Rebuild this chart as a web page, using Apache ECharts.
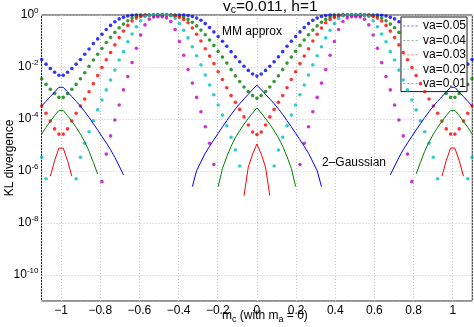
<!DOCTYPE html>
<html>
<head>
<meta charset="utf-8">
<script src="https://cdn.jsdelivr.net/npm/echarts@6/dist/echarts.min.js"></script>
<style>
  html, body { margin: 0; padding: 0; background: #fff; }
  #chart-container { width: 474px; height: 327px; }
</style>
</head>
<body>
<div id="chart-container"></div>
<script>
const _ = null;

// m_c sample positions (step 1/45.5, from -1.0989 to 1.0989)
const mcStep = 1 / 45.5;
const mc = [];
for (let k = -50; k <= 50; k++) mc.push(k * mcStep);

const vaNames = ['va=0.05', 'va=0.04', 'va=0.03', 'va=0.02', 'va=0.01'];
const vaColors = ['#0000ff', '#008000', '#ff0000', '#00bfbf', '#bf00bf'];

// MM approx, log10 of KL divergence, one value per mc sample
const mmVa05 = [-1.71,-1.89,-2.06,-2.2,-2.32,-2.32,-2.2,-2.06,-1.89,-1.71,-1.51,-1.31,-1.1,-0.92,-0.74,-0.56,-0.4,-0.26,-0.15,-0.09,-0.04,-0.01,0,0,0,0,0,0,0,0,0,0,0,0,-0.02,-0.06,-0.12,-0.2,-0.33,-0.48,-0.65,-0.83,-1.01,-1.2,-1.41,-1.61,-1.8,-1.97,-2.13,-2.27,
  -2.35,
  -2.27,-2.13,-1.97,-1.8,-1.61,-1.41,-1.2,-1.01,-0.83,-0.65,-0.48,-0.33,-0.2,-0.12,-0.06,-0.02,0,0,0,0,0,0,0,0,0,0,0,0,-0.01,-0.04,-0.09,-0.15,-0.26,-0.4,-0.56,-0.74,-0.92,-1.1,-1.31,-1.51,-1.71,-1.89,-2.06,-2.2,-2.32,-2.32,-2.2,-2.06,-1.89,-1.71];
const mmVa04 = [-2.45,-2.67,-2.86,-3.02,-3.17,-3.17,-3.02,-2.86,-2.67,-2.45,-2.22,-1.97,-1.73,-1.51,-1.29,-1.06,-0.86,-0.67,-0.49,-0.35,-0.22,-0.12,-0.05,-0.03,-0.01,0,0,0,0,0,0,-0.02,-0.04,-0.08,-0.17,-0.28,-0.42,-0.58,-0.76,-0.96,-1.17,-1.4,-1.62,-1.85,-2.1,-2.34,-2.56,-2.77,-2.94,-3.1,
  -3.2,
  -3.1,-2.94,-2.77,-2.56,-2.34,-2.1,-1.85,-1.62,-1.4,-1.17,-0.96,-0.76,-0.58,-0.42,-0.28,-0.17,-0.08,-0.04,-0.02,0,0,0,0,0,0,-0.01,-0.03,-0.05,-0.12,-0.22,-0.35,-0.49,-0.67,-0.86,-1.06,-1.29,-1.51,-1.73,-1.97,-2.22,-2.45,-2.67,-2.86,-3.02,-3.17,-3.17,-3.02,-2.86,-2.67,-2.45];
const mmVa03 = [-3.5,-3.78,-4.08,-4.38,-4.58,-4.58,-4.38,-4.08,-3.78,-3.5,-3.23,-2.95,-2.64,-2.33,-2.02,-1.72,-1.44,-1.15,-0.87,-0.62,-0.4,-0.23,-0.12,-0.06,-0.03,-0.01,0,0,0,0,-0.02,-0.04,-0.09,-0.17,-0.3,-0.5,-0.74,-1.0,-1.3,-1.58,-1.87,-2.18,-2.48,-2.8,-3.1,-3.36,-3.63,-3.92,-4.23,-4.5,
  -4.6,
  -4.5,-4.23,-3.92,-3.63,-3.36,-3.1,-2.8,-2.48,-2.18,-1.87,-1.58,-1.3,-1.0,-0.74,-0.5,-0.3,-0.17,-0.09,-0.04,-0.02,0,0,0,0,-0.01,-0.03,-0.06,-0.12,-0.23,-0.4,-0.62,-0.87,-1.15,-1.44,-1.72,-2.02,-2.33,-2.64,-2.95,-3.23,-3.5,-3.78,-4.08,-4.38,-4.58,-4.58,-4.38,-4.08,-3.78,-3.5];
const mmVa02 = [-5.47,-6.3,_,_,_,_,_,_,-6.3,-5.47,-4.93,-4.49,-4.07,-3.65,-3.27,-2.88,-2.5,-2.12,-1.73,-1.41,-1.03,-0.73,-0.45,-0.22,-0.06,-0.01,0,0,0,0,-0.03,-0.13,-0.33,-0.59,-0.88,-1.22,-1.57,-1.92,-2.31,-2.69,-3.07,-3.46,-3.85,-4.26,-4.7,-5.19,-5.81,_,_,_,
  _,
  _,_,_,-5.81,-5.19,-4.7,-4.26,-3.85,-3.46,-3.07,-2.69,-2.31,-1.92,-1.57,-1.22,-0.88,-0.59,-0.33,-0.13,-0.03,0,0,0,0,-0.01,-0.06,-0.22,-0.45,-0.73,-1.03,-1.41,-1.73,-2.12,-2.5,-2.88,-3.27,-3.65,-4.07,-4.49,-4.93,-5.47,-6.3,_,_,_,_,_,_,-6.3,-5.47];
const mmVa01 = [_,_,_,_,_,_,_,_,_,_,_,_,_,_,-6.41,-5.35,-4.65,-4.04,-3.46,-2.88,-2.37,-1.83,-1.28,-0.77,-0.38,-0.16,-0.08,-0.07,-0.07,-0.11,-0.25,-0.56,-1.02,-1.55,-2.1,-2.62,-3.17,-3.72,-4.3,-4.93,-5.75,_,_,_,_,_,_,_,_,_,
  _,
  _,_,_,_,_,_,_,_,_,-5.75,-4.93,-4.3,-3.72,-3.17,-2.62,-2.1,-1.55,-1.02,-0.56,-0.25,-0.11,-0.07,-0.07,-0.08,-0.16,-0.38,-0.77,-1.28,-1.83,-2.37,-2.88,-3.46,-4.04,-4.65,-5.35,-6.41,_,_,_,_,_,_,_,_,_,_,_,_,_,_];

// 2-Gaussian, log10 of KL divergence
const gaussVa05 = [-3.5,-3.32,-3.14,-2.96,-2.78,-2.78,-2.96,-3.14,-3.32,-3.5,-3.72,-3.94,-4.18,-4.42,-4.67,-4.92,-5.18,-5.48,-5.81,-6.15,_,_,_,_,_,_,_,_,_,_,_,_,_,_,_,-6.6,-5.98,-5.65,-5.32,-5.05,-4.8,-4.55,-4.3,-4.06,-3.83,-3.61,-3.41,-3.23,-3.05,-2.87,
  -2.7,
  -2.87,-3.05,-3.23,-3.41,-3.61,-3.83,-4.06,-4.3,-4.55,-4.8,-5.05,-5.32,-5.65,-5.98,-6.6,_,_,_,_,_,_,_,_,_,_,_,_,_,_,_,-6.15,-5.81,-5.48,-5.18,-4.92,-4.67,-4.42,-4.18,-3.94,-3.72,-3.5,-3.32,-3.14,-2.96,-2.78,-2.78,-2.96,-3.14,-3.32,-3.5];
const gaussVa04 = [-4.58,-4.32,-4.09,-3.87,-3.67,-3.67,-3.87,-4.09,-4.32,-4.58,-4.88,-5.24,-5.67,-6.12,_,_,_,_,_,_,_,_,_,_,_,_,_,_,_,_,_,_,_,_,_,_,_,_,_,_,_,-6.6,-5.9,-5.45,-5.05,-4.72,-4.45,-4.2,-3.98,-3.77,
  -3.57,
  -3.77,-3.98,-4.2,-4.45,-4.72,-5.05,-5.45,-5.9,-6.6,_,_,_,_,_,_,_,_,_,_,_,_,_,_,_,_,_,_,_,_,_,_,_,_,_,_,_,-6.12,-5.67,-5.24,-4.88,-4.58,-4.32,-4.09,-3.87,-3.67,-3.67,-3.87,-4.09,-4.32,-4.58];
const gaussVa03 = [_,_,-6.2,-5.6,-5.12,-5.12,-5.6,-6.2,_,_,_,_,_,_,_,_,_,_,_,_,_,_,_,_,_,_,_,_,_,_,_,_,_,_,_,_,_,_,_,_,_,_,_,_,_,_,_,-6.95,-5.85,-5.35,
  -4.96,
  -5.35,-5.85,-6.95,_,_,_,_,_,_,_,_,_,_,_,_,_,_,_,_,_,_,_,_,_,_,_,_,_,_,_,_,_,_,_,_,_,_,_,_,_,_,_,-6.2,-5.6,-5.12,-5.12,-5.6,-6.2,_,_];

const mmSets = [mmVa05, mmVa04, mmVa03, mmVa02, mmVa01];
const gaussSets = [gaussVa05, gaussVa04, gaussVa03];

const yTickLabels = ['0', '-2', '-4', '-6', '-8', '-10'];

function toPoints(logs) {
  return mc.map((x, i) => [x, logs[i] === null ? '-' : Math.pow(10, logs[i])]);
}

const font = 'Liberation Sans, Arial, Helvetica, sans-serif';

const series = [];
mmSets.forEach((logs, i) => {
  series.push({
    name: vaNames[i],
    type: 'scatter',
    symbol: 'circle',
    symbolSize: 3.6,
    data: toPoints(logs),
    itemStyle: { color: vaColors[i] },
    z: 2 + i
  });
});
gaussSets.forEach((logs, i) => {
  series.push({
    name: '2-Gaussian ' + vaNames[i],
    type: 'line',
    showSymbol: false,
    data: toPoints(logs),
    lineStyle: { color: vaColors[i], width: 1 },
    itemStyle: { color: vaColors[i] },
    z: 10
  });
});

const option = {
  animation: false,
  textStyle: { fontFamily: font },
  grid: {
    left: 41.5, right: 1.7, top: 15, bottom: 26,
    outerBoundsMode: 'none',
    containLabel: false,
    show: true, borderColor: '#262626', borderWidth: 1
  },
  xAxis: {
    type: 'value',
    min: -1.1,
    max: 1.1,
    splitNumber: 11,
    axisLine: { show: false },
    axisTick: { show: false },
    splitLine: { lineStyle: { color: '#c4c4c4', type: [1, 2] } },
    axisLabel: {
      showMinLabel: false, showMaxLabel: false,
      fontSize: 12, color: '#000', margin: 4,
      formatter: v => (v < -1e-9 ? '\u2212' : '') + String(+Math.abs(v).toFixed(1))
    },
    name: '{i|m}{s|c} (with m{s|a} = 0)',
    nameLocation: 'middle',
    nameGap: 7,
    nameMoveOverlap: false,
    nameTextStyle: {
      color: '#000', fontSize: 12, padding: [0, 0, 0, 16],
      rich: {
        i: { fontSize: 12, color: '#000' },
        s: { fontSize: 9, color: '#000', verticalAlign: 'bottom', padding: [7, 0, 0, 0] }
      }
    }
  },
  yAxis: {
    type: 'log',
    logBase: 100,
    min: 1e-11,
    max: 1,
    axisLine: { show: false },
    axisTick: { show: false },
    splitLine: { lineStyle: { color: '#c4c4c4', type: [1, 2] } },
    axisLabel: {
      showMinLabel: false,
      margin: 3,
      formatter: v => {
        const e = Math.round(Math.log10(v));
        const lbl = yTickLabels.find(t => +t === e);
        return lbl === undefined ? '' : '{b|10}{s|' + lbl + '}';
      },
      rich: {
        b: { fontSize: 12, color: '#000' },
        s: { fontSize: 8, color: '#000', verticalAlign: 'bottom', padding: [0, 0, 9, 0] }
      }
    },
    name: 'KL divergence',
    nameLocation: 'middle',
    nameGap: 26,
    nameMoveOverlap: false,
    nameTextStyle: { color: '#000', fontSize: 12 }
  },
  legend: {
    data: vaNames,
    orient: 'vertical',
    right: 7,
    top: 17,
    padding: [2, 1, 1, 2],
    itemGap: 0.4,
    itemWidth: 15,
    itemHeight: 1.5,
    icon: 'path://M0,0h3v1h-3zM5,0h3v1h-3zM10,0h3v1h-3zM15,0h3v1h-3z',
    itemStyle: { opacity: 0.55 },
    backgroundColor: '#fff',
    borderColor: '#1a1a1a',
    borderWidth: 1,
    borderRadius: 0,
    textStyle: { fontSize: 12, color: '#000', lineHeight: 14, padding: [0, 0, 0, 0] }
  },
  graphic: [
    {
      type: 'text', left: 223, top: -1,
      style: {
        text: '{t|v}{s|c}{t|=0.011, h=1}',
        rich: {
          t: { fontSize: 15.5, fill: '#000', fontFamily: font },
          s: { fontSize: 10.5, fill: '#000', fontFamily: font, verticalAlign: 'bottom', padding: [7, 0, 0, 0] }
        }
      }
    },
    {
      type: 'text', left: 222, top: 26,
      style: { text: 'MM approx', fontSize: 12, fill: '#000', fontFamily: font }
    },
    {
      type: 'text', left: 322, top: 157,
      style: { text: '2\u2013Gaussian', fontSize: 12, fill: '#000', fontFamily: font }
    }
  ],
  series: series
};

const chart = echarts.init(document.getElementById('chart-container'));
chart.setOption(option);
</script>
</body>
</html>
